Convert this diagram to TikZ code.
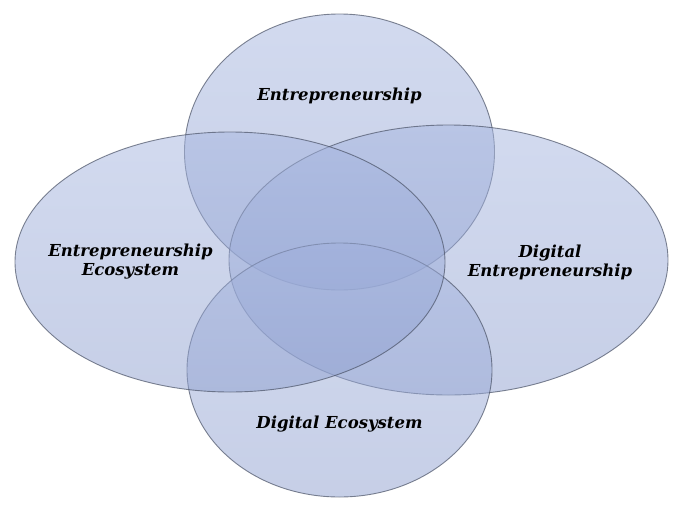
\documentclass[tikz,border=0pt]{standalone}
\usepackage{fontspec}
\setmainfont{DejaVu Serif}
\usetikzlibrary{shapes.geometric}
\definecolor{vtop}{HTML}{A6B6E0}
\definecolor{vbot}{HTML}{8FA0D0}
\definecolor{vline}{HTML}{4A5266}
\tikzset{
  ell/.style={ellipse, inner sep=0pt, top color=vtop, bottom color=vbot,
    fill opacity=0.5, draw=vline, draw opacity=0.7, line width=0.9pt},
  lbl/.style={font=\bfseries\itshape\fontsize{16.5}{19}\selectfont, text=black,
    align=center, inner sep=0pt}
}
\begin{document}
\begin{tikzpicture}[x=1pt,y=-1pt]
\useasboundingbox (0,0) rectangle (685,512);
\fill[white] (0,0) rectangle (685,512);
\node[ell, minimum width=310pt, minimum height=276pt] (top) at (339.5,152) {};
\node[ell, minimum width=439pt, minimum height=270pt] (right) at (448.5,260) {};
\node[ell, minimum width=305pt, minimum height=254pt] (bottom) at (339.5,370) {};
\node[ell, minimum width=430pt, minimum height=260pt] (left) at (230,262) {};
\node[lbl, anchor=base] (tE) at (339.5,100) {Entrepreneurship};
\node[lbl] (tEE) at (130.5,262) {Entrepreneurship\\Ecosystem};
\node[lbl] (tDE) at (550,262) {Digital\\Entrepreneurship};
\node[lbl, anchor=base] (tDEc) at (339.5,428) {Digital Ecosystem};
\end{tikzpicture}
\end{document}
